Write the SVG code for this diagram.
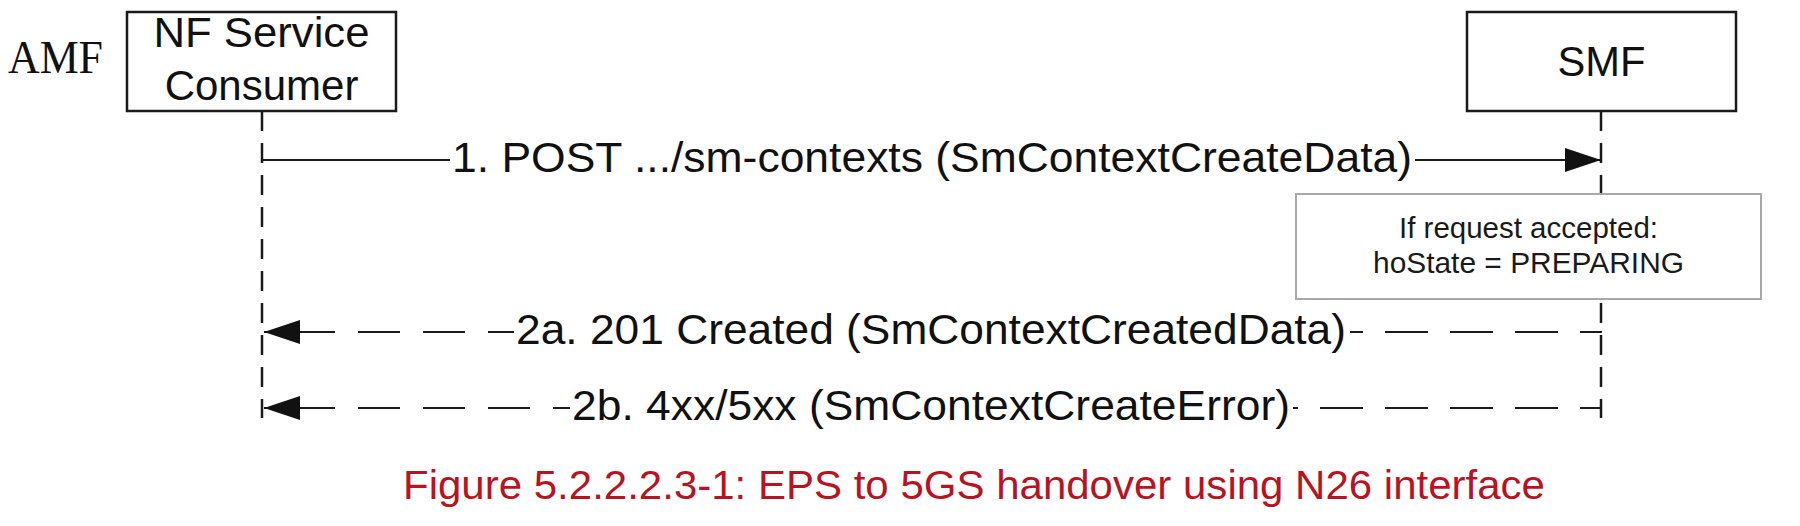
<svg xmlns="http://www.w3.org/2000/svg" width="1800" height="526" viewBox="0 0 1800 526">
<defs>
<style>
.box{fill:#fff;stroke:#1a1a1a;stroke-width:2.5}
.note{fill:#fff;stroke:#a8a8a8;stroke-width:2}
.life{fill:none;stroke:#1a1a1a;stroke-width:2.5;stroke-dasharray:20 12}
.lbl{font-family:"Liberation Sans",Arial,sans-serif;font-size:42px;fill:#111}
.small{font-family:"Liberation Sans",Arial,sans-serif;font-size:29px;fill:#1a1a1a}
.amf{font-family:"Liberation Serif","Times New Roman",serif;font-size:46px;fill:#111}
.cap{font-family:"Liberation Sans",Arial,sans-serif;font-size:41px;fill:#b81322}
.msg{fill:none;stroke:#1a1a1a;stroke-width:2.2}
</style>
<marker id="ah" markerUnits="userSpaceOnUse" markerWidth="36" markerHeight="24" viewBox="0 0 36 24" refX="36" refY="12" orient="auto">
<path d="M0,0 L36,12 L0,24 z" fill="#111"/>
</marker>
</defs>
<rect width="1800" height="526" fill="#fff"/>

<g id="amf-label">
<text class="amf" x="8" y="73" textLength="95" lengthAdjust="spacingAndGlyphs">AMF</text>
</g>

<g id="node-consumer">
<line class="life" x1="262" y1="111" x2="262" y2="418"/>
<rect class="box" x="127" y="12" width="269" height="99"/>
<text class="lbl" x="261.5" y="47" text-anchor="middle" textLength="216" lengthAdjust="spacingAndGlyphs">NF Service</text>
<text class="lbl" x="261.5" y="100" text-anchor="middle">Consumer</text>
</g>

<g id="node-smf">
<line class="life" x1="1601" y1="111" x2="1601" y2="418"/>
<rect class="box" x="1467" y="12" width="269" height="99"/>
<text class="lbl" x="1601.5" y="76" text-anchor="middle" textLength="88" lengthAdjust="spacingAndGlyphs">SMF</text>
</g>

<g id="note-preparing">
<rect class="note" x="1296" y="194" width="465" height="105"/>
<text class="small" x="1528.5" y="238" text-anchor="middle" textLength="259" lengthAdjust="spacingAndGlyphs">If request accepted:</text>
<text class="small" x="1528.5" y="273" text-anchor="middle" textLength="311" lengthAdjust="spacingAndGlyphs">hoState = PREPARING</text>
</g>

<g id="connectors">
<g id="msg1">
<line class="msg" x1="262" y1="160" x2="450" y2="160"/>
<line class="msg" x1="1415" y1="160" x2="1601" y2="160" marker-end="url(#ah)"/>
<text class="lbl" x="452" y="172" textLength="960" lengthAdjust="spacingAndGlyphs">1. POST .../sm-contexts (SmContextCreateData)</text>
</g>
<g id="msg2a">
<path class="msg" d="M514,332 L264,332" stroke-dasharray="26 23 42 23 42 23 80" marker-end="url(#ah)"/>
<path class="msg" d="M1602,332 L1350,332" stroke-dasharray="43 22" stroke-dashoffset="21"/>
<text class="lbl" x="516" y="344" textLength="830" lengthAdjust="spacingAndGlyphs">2a. 201 Created (SmContextCreatedData)</text>
</g>
<g id="msg2b">
<path class="msg" d="M570,408 L264,408" stroke-dasharray="17 23 42 23 42 23 42 23 80" marker-end="url(#ah)"/>
<path class="msg" d="M1602,408 L1293,408" stroke-dasharray="43 22" stroke-dashoffset="21"/>
<text class="lbl" x="572" y="420" textLength="718" lengthAdjust="spacingAndGlyphs">2b. 4xx/5xx (SmContextCreateError)</text>
</g>
</g>

<g id="caption">
<text class="cap" x="403" y="499" textLength="1142" lengthAdjust="spacingAndGlyphs">Figure 5.2.2.2.3-1: EPS to 5GS handover using N26 interface</text>
</g>
</svg>
